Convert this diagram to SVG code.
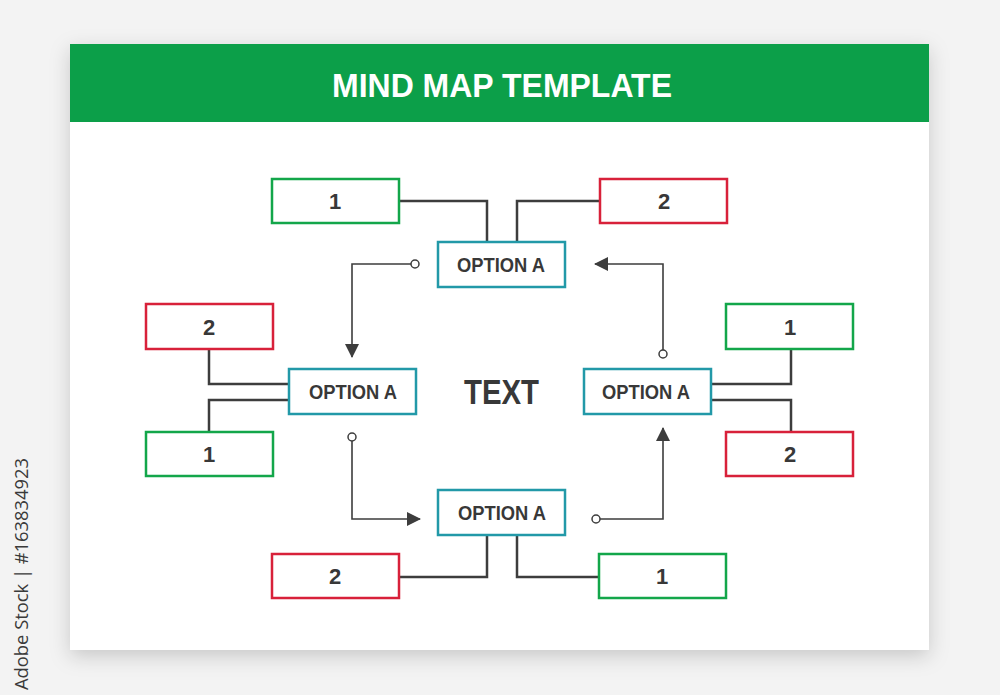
<svg xmlns="http://www.w3.org/2000/svg" width="1000" height="695" viewBox="0 0 1000 695">
<defs>
<filter id="shadow" x="-10%" y="-10%" width="120%" height="125%">
<feDropShadow dx="0" dy="6" stdDeviation="10" flood-color="#000" flood-opacity="0.18"/>
</filter>
<marker id="arrow" viewBox="0 0 14 14" refX="13" refY="7" markerWidth="14" markerHeight="14" markerUnits="userSpaceOnUse" orient="auto">
<path d="M0,0 L14,7 L0,14 Z" fill="#3d3d3d"/>
</marker>
<marker id="dot" viewBox="0 0 10 10" refX="5" refY="5" markerWidth="10" markerHeight="10" markerUnits="userSpaceOnUse" orient="auto">
<circle cx="5" cy="5" r="4" fill="#fff" stroke="#3d3d3d" stroke-width="1.5"/>
</marker>
</defs>
<style>
.opt rect{fill:#fff;stroke:#2299a8;stroke-width:2.5}
.grn rect{fill:#fff;stroke:#13a64a;stroke-width:2.5}
.red rect{fill:#fff;stroke:#d8213a;stroke-width:2.5}
.lbl{font-family:"Liberation Sans",Arial,sans-serif;font-weight:bold;fill:#383838;text-anchor:middle}
.opt text{font-size:20px}
.num{font-size:22px}
.conn path{fill:none;stroke:#3d3d3d;stroke-width:2.5}
.flow path{fill:none;stroke:#3d3d3d;stroke-width:1.6}
</style>
<rect x="0" y="0" width="1000" height="695" fill="#f3f3f3"/>
<rect x="70" y="44" width="859" height="606" fill="#fff" filter="url(#shadow)"/>
<g id="header">
<rect x="70" y="44" width="859" height="78" fill="#0c9f49"/>
<text x="502" y="97" font-family="'Liberation Sans',Arial,sans-serif" font-weight="bold" font-size="34" fill="#fff" text-anchor="middle" textLength="340" lengthAdjust="spacingAndGlyphs">MIND MAP TEMPLATE</text>
</g>
<g id="connectors">
<g class="conn">
<path d="M399,201 H487 V242"/>
<path d="M600,201 H517 V242"/>
<path d="M209,349 V384 H289"/>
<path d="M209,432 V400 H289"/>
<path d="M791,349 V384 H711"/>
<path d="M791,432 V400 H711"/>
<path d="M399,577 H487 V535"/>
<path d="M599,577 H517 V535"/>
</g>
<g class="flow">
<path d="M415,264 H352 V357" marker-start="url(#dot)" marker-end="url(#arrow)"/>
<path d="M663,354 V264 H595" marker-start="url(#dot)" marker-end="url(#arrow)"/>
<path d="M352,437 V519 H420" marker-start="url(#dot)" marker-end="url(#arrow)"/>
<path d="M596,519 H663 V428" marker-start="url(#dot)" marker-end="url(#arrow)"/>
</g>
</g>
<g id="center">
<text class="lbl" x="501.5" y="404" font-size="35" textLength="75" lengthAdjust="spacingAndGlyphs">TEXT</text>
</g>
<g id="opt-top" class="opt"><rect x="438" y="242" width="127" height="45"/><text class="lbl" x="501" y="272" textLength="88" lengthAdjust="spacingAndGlyphs">OPTION A</text></g>
<g id="opt-left" class="opt"><rect x="289" y="369" width="127" height="45"/><text class="lbl" x="353" y="399" textLength="88" lengthAdjust="spacingAndGlyphs">OPTION A</text></g>
<g id="opt-right" class="opt"><rect x="584" y="369" width="127" height="45"/><text class="lbl" x="646" y="399" textLength="88" lengthAdjust="spacingAndGlyphs">OPTION A</text></g>
<g id="opt-bottom" class="opt"><rect x="438" y="490" width="127" height="45"/><text class="lbl" x="502" y="520" textLength="88" lengthAdjust="spacingAndGlyphs">OPTION A</text></g>
<g id="top-1" class="grn"><rect x="272" y="179" width="127" height="44"/><text class="lbl num" x="335" y="209">1</text></g>
<g id="top-2" class="red"><rect x="600" y="179" width="127" height="44"/><text class="lbl num" x="664" y="209">2</text></g>
<g id="left-2" class="red"><rect x="146" y="304" width="127" height="45"/><text class="lbl num" x="209" y="335">2</text></g>
<g id="left-1" class="grn"><rect x="146" y="432" width="127" height="44"/><text class="lbl num" x="209" y="462">1</text></g>
<g id="right-1" class="grn"><rect x="726" y="304" width="127" height="45"/><text class="lbl num" x="790" y="335">1</text></g>
<g id="right-2" class="red"><rect x="726" y="432" width="127" height="44"/><text class="lbl num" x="790" y="462">2</text></g>
<g id="bottom-2" class="red"><rect x="272" y="554" width="127" height="44"/><text class="lbl num" x="335" y="584">2</text></g>
<g id="bottom-1" class="grn"><rect x="599" y="554" width="127" height="44"/><text class="lbl num" x="662" y="584">1</text></g>
<text x="0" y="0" transform="translate(28,574) rotate(-90)" font-family="'Open Sans','Liberation Sans',sans-serif" font-size="18" fill="#3a3a3a" text-anchor="middle" textLength="232" lengthAdjust="spacingAndGlyphs">Adobe Stock | #163834923</text>
</svg>
